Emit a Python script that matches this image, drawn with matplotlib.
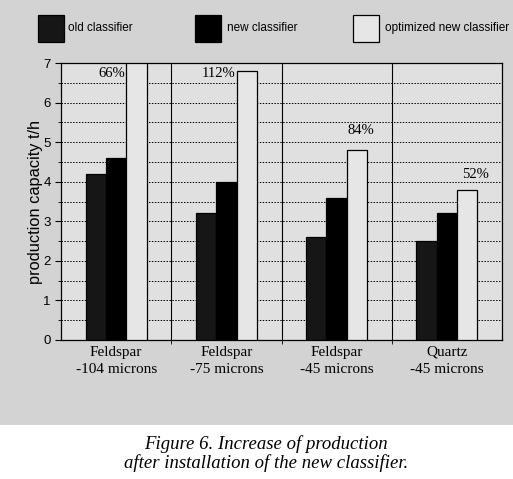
import matplotlib
matplotlib.use("Agg")
import matplotlib.pyplot as plt
import numpy as np
from matplotlib.patches import Rectangle

# data
categories = ["Feldspar\n-104 microns", "Feldspar\n-75 microns",
              "Feldspar\n-45 microns", "Quartz\n-45 microns"]
old_classifier = [4.2, 3.2, 2.6, 2.5]
new_classifier = [4.6, 4.0, 3.6, 3.2]
optimized_classifier = [7.0, 6.8, 4.8, 3.8]
increase_labels = ["66%", "112%", "84%", "52%"]

series = [
    ("old classifier", old_classifier, "#161616"),
    ("new classifier", new_classifier, "#000000"),
    ("optimized new classifier", optimized_classifier, "#e6e6e6"),
]

fig = plt.figure(figsize=(5.13, 4.79), dpi=100)
fig.patch.set_facecolor("white")
# scanned grey background
fig.add_artist(Rectangle((0, 54 / 479), 1, 1 - 54 / 479, transform=fig.transFigure,
                         facecolor="#d3d3d3", edgecolor="none", zorder=0))

ax = fig.add_axes([61 / 513, 1 - 340 / 479, 441 / 513, 277 / 479])
ax.set_facecolor("#e0e0e0")

x = np.arange(len(categories))
w = 0.185
for i, (name, vals, col) in enumerate(series):
    ax.bar(x + (i - 1) * w, vals, width=w, color=col, edgecolor="black",
           linewidth=0.9, label=name, zorder=3)

# percentage increase labels
label_pos = [(-0.04, 6.74), (0.93, 6.74), (2.22, 5.3), (3.26, 4.19)]
for (lx, ly), txt in zip(label_pos, increase_labels):
    ax.text(lx, ly, txt, ha="center", va="center", fontsize=10.5,
            family="Liberation Serif", zorder=4)

ax.set_xlim(-0.5, 3.5)
ax.set_ylim(0, 7)
ax.set_yticks(range(0, 8))
ax.set_yticks(np.arange(0.5, 7, 1), minor=True)
ax.yaxis.grid(True, which="both", linestyle=(0, (1.5, 1.5)), color="black",
              linewidth=0.7, zorder=1)
for b in [0.5, 1.5, 2.5]:
    ax.axvline(b, color="black", linewidth=0.8, zorder=2)

ax.set_xticks(x)
ax.set_xticklabels(categories, family="Liberation Serif", fontsize=11,
                   linespacing=1.45)
ax.set_xticks([0.5, 1.5, 2.5], minor=True)
ax.tick_params(axis="x", which="major", length=0, pad=4)
ax.tick_params(axis="x", which="minor", length=3)
ax.tick_params(axis="y", which="major", length=4, labelsize=9.5)
ax.tick_params(axis="y", which="minor", length=2)
for lab in ax.get_yticklabels():
    lab.set_family("Liberation Sans")
for s in ax.spines.values():
    s.set_color("black")
    s.set_linewidth(0.9)

ax.set_ylabel("production capacity t/h", family="Liberation Sans",
              fontsize=11.8, labelpad=0)

# legend drawn along the top
leg_x = [38, 195, 353]
txt_x = [68, 227, 385]
for (name, vals, col), px, tx in zip(series, leg_x, txt_x):
    fig.add_artist(Rectangle((px / 513, 1 - 42 / 479), 26 / 513, 27 / 479,
                             transform=fig.transFigure, facecolor=col,
                             edgecolor="black", linewidth=0.9))
    fig.text(tx / 513, 1 - 28 / 479, name, ha="left", va="center",
             fontsize=8.5, family="Liberation Sans")

# caption
fig.text(266 / 513, 1 - 444 / 479, "Figure 6. Increase of production",
         ha="center", va="center", fontsize=13.5, style="italic",
         family="Liberation Serif")
fig.text(266 / 513, 1 - 463 / 479, "after installation of the new classifier.",
         ha="center", va="center", fontsize=13.5, style="italic",
         family="Liberation Serif")

fig.savefig("out.png", dpi=100)
